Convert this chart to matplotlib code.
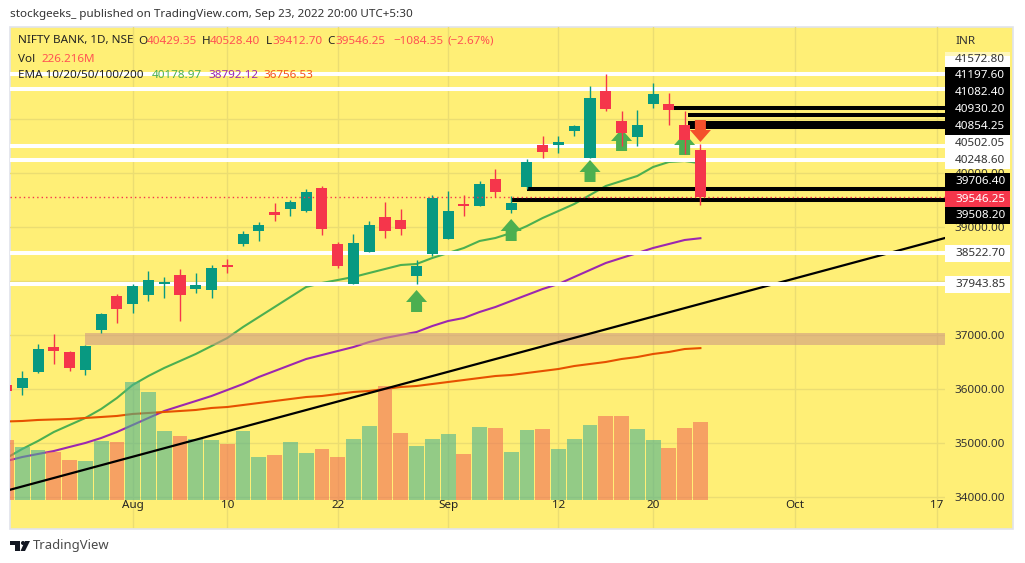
import matplotlib
matplotlib.use('Agg')
import matplotlib.pyplot as plt
from matplotlib.patches import Rectangle, Polygon, Circle

plt.rcParams['font.family'] = ['Noto Sans', 'DejaVu Sans']

W, H = 1025, 563
YELLOW = '#FFEF76'
UP = '#089981'
DOWN = '#F5364B'

# daily candles
opens = [36074, 36018, 36315, 36778, 36685, 36352, 37092, 37722, 37574, 37741, 37944, 38111, 37852, 37833, 38296,
         38685, 38926, 39278, 39333, 39296, 39722, 38685, 37944, 38537, 39185, 39130, 38092, 38500, 38778, 39426,
         39389, 39889, 39315, 39741, 40519, 40519, 40778, 40278, 41519, 40963, 40667, 41278, 41278, 40889, 40429.35]
highs = [36111, 36333, 36833, 37018, 36704, 36815, 37407, 37759, 37944, 38185, 38074, 38222, 38148, 38296, 38407,
         38926, 39093, 39444, 39500, 39704, 39759, 38722, 38870, 39111, 39463, 39333, 38389, 39593, 39667, 39593,
         39852, 40074, 39574, 40259, 40685, 40685, 40889, 41611, 41833, 41148, 41167, 41667, 41482, 41148, 40528.40]
lows = [35944, 35889, 36296, 36463, 36333, 36259, 37037, 37222, 37407, 37630, 37685, 37259, 37778, 37685, 38148,
        38648, 38741, 39111, 39204, 39278, 38852, 38241, 37944, 38537, 38796, 38852, 37944, 38463, 38778, 39204,
        39389, 39556, 39259, 39704, 40278, 40370, 40685, 40278, 41148, 40500, 40500, 41204, 40889, 40352, 39412.70]
closes = [35963, 36203, 36741, 36704, 36389, 36796, 37389, 37481, 37907, 38018, 37981, 37741, 37926, 38241, 38259,
          38870, 39037, 39222, 39463, 39648, 38963, 38278, 38704, 39037, 38926, 38963, 38278, 39537, 39296, 39389,
          39796, 39648, 39444, 40204, 40389, 40574, 40870, 41389, 41185, 40741, 40889, 41463, 41167, 40611, 39546.25]

# volume in millions
volume = [174, 153.7, 145, 139.2, 116, 113.1, 171.1, 168.2, 342.2, 313.2, 200.1, 185.6, 176.9, 174, 162.4,
          200.1, 124.7, 130.5, 168.2, 136.3, 147.9, 124.7, 176.9, 214.6, 330.6, 194.3, 156.6, 176.9, 191.4, 133.4,
          211.7, 208.8, 139.2, 203, 205.9, 147.9, 176.9, 217.5, 243.6, 243.6, 205.9, 174, 150.8, 208.8, 226.216]

ema_green = [34722, 34889, 35037, 35203, 35333, 35463, 35629, 35833, 36074, 36241, 36389, 36518, 36648, 36796, 36944,
             37148, 37333, 37518, 37704, 37889, 37963, 38018, 38074, 38148, 38222, 38296, 38315, 38426, 38518, 38611,
             38741, 38796, 38889, 39018, 39167, 39296, 39426, 39593, 39759, 39852, 39945, 40111, 40204, 40222, 40178.97]
ema_purple = [34666, 34740, 34796, 34851, 34926, 35000, 35092, 35203, 35333, 35463, 35592, 35685, 35777, 35870, 35981,
              36092, 36222, 36333, 36444, 36555, 36629, 36703, 36777, 36870, 36944, 37000, 37055, 37166, 37259, 37315,
              37426, 37518, 37630, 37741, 37852, 37944, 38074, 38204, 38333, 38426, 38518, 38611, 38685, 38759, 38792.12]
ema_orange = [35398, 35407, 35426, 35435, 35444, 35463, 35481, 35500, 35537, 35555, 35574, 35592, 35611, 35648, 35666,
              35703, 35740, 35777, 35814, 35851, 35870, 35907, 35944, 35963, 36000, 36037, 36055, 36092, 36129, 36166,
              36203, 36240, 36259, 36296, 36333, 36370, 36425, 36463, 36500, 36555, 36592, 36648, 36685, 36740, 36756.53]

# drawn levels: price, first bar
white_levels = [41833, 41556, 40502.05, 40248.60, 38522.70, 37943.85]
black_levels = [41197.60, 41082.40, 40930.20, 40854.25, 39706.40, 39508.20]
black_starts = [42.2, 43.2, 43.2, 43.2, 33, 32]
trend_x = [0.22, 59.51]
trend_y = [34133, 38796]
band_x = 5, 59.51
band_y = 36815, 37037
last_close = 39546.25

arrow_up_bars = [26, 32, 37, 39, 43]
arrow_up_tips = [37833, 39148, 40241, 40815, 40741]
arrow_down_bar = 44
arrow_down_tip = 40574

xtick_pos = [8, 14, 21, 28, 35, 41, 50, 59]
xtick_labels = ['Aug', '10', '22', 'Sep', '12', '20', 'Oct', '17']
ytick_pos = [34000, 35000, 36000, 37000, 38000, 39000, 40000, 41000]
ytick_labels = ['34000.00', '35000.00', '36000.00', '37000.00', '', '39000.00', '40000.00', '']

# labels on the price scale, moved apart by the site: text, top, bottom, box, text colour
scale_text = ['41197.60', '41082.40', '40930.20', '40854.25', '40502.05', '40248.60', '39706.40', '39546.25', '39508.20', '38522.70', '37943.85']
scale_top = [67, 84, 101, 118, 135, 152, 173, 191, 207, 245, 276]
scale_bot = [84, 101, 118, 135, 152, 169, 191, 207, 224, 262, 293]
scale_box = ['black', 'black', 'black', 'black', 'white', 'white', 'black', DOWN, 'black', 'white', 'white']
scale_fg = ['white', 'white', 'white', 'white', '#333333', '#333333', 'white', 'white', 'white', '#333333', '#333333']

fig = plt.figure(figsize=(W / 100, H / 100), dpi=100, facecolor='white')
rect = [10 / W, 1 - 528 / H, 935 / W, 501 / H]
bars = list(range(len(closes)))

# frame and yellow price scale behind everything
fig.add_artist(Rectangle((9.5 / W, 1 - 528.5 / H), 1003 / W, 502 / H, transform=fig.transFigure,
                         facecolor=YELLOW, edgecolor='#E0E3EB', lw=1.2))

# bottom layer: grid, ticks, EMAs
ax = fig.add_axes(rect, zorder=1)
ax.patch.set_alpha(0)
ax.set_xlim(0.22, 59.51)
ax.set_ylim(33425, 42704)
ax.set_xticks(xtick_pos)
ax.set_xticklabels(xtick_labels)
ax.set_yticks(ytick_pos)
ax.set_yticklabels(ytick_labels)
ax.yaxis.tick_right()
ax.tick_params(axis='y', length=0, pad=7, labelsize=8.4, labelcolor='#333333')
ax.tick_params(axis='x', length=0, pad=-20, labelsize=8.4, labelcolor='#222222')
ax.grid(True, color='#EBDD72', lw=1)
for s in ax.spines.values():
    s.set_visible(False)
ax.plot(bars, ema_green, color='#4CAF50', lw=1.5)
ax.plot(bars, ema_purple, color='#9C27B0', lw=1.5)
ax.plot(bars, ema_orange, color='#E65100', lw=1.5)

# volume sits on top of the EMAs
vol = fig.add_axes(rect, zorder=2, sharex=ax)
vol.patch.set_alpha(0)
vol.set_ylim(-81.2, 1371.7)
vol.axis('off')
vol_colors = ['#4BB391' if c >= o else '#F06E57' for o, c in zip(opens, closes)]
vol.bar(bars, volume, width=0.94, color=vol_colors, alpha=0.6)

# top layer: drawings and candles
top = fig.add_axes(rect, zorder=3, sharex=ax, sharey=ax)
top.patch.set_alpha(0)
top.axis('off')
top.add_patch(Rectangle((band_x[0], band_y[0]), band_x[1] - band_x[0], band_y[1] - band_y[0],
                        facecolor='#D09A82', alpha=0.6, edgecolor='none', zorder=1))
top.plot(trend_x, trend_y, color='black', lw=1.6, zorder=2)
for p in white_levels:
    top.plot(trend_x, [p, p], color='white', lw=2.9, solid_capstyle='butt', zorder=2)
for p, start in zip(black_levels, black_starts):
    top.plot([start, trend_x[1]], [p, p], color='black', lw=2.9, solid_capstyle='butt', zorder=2)
top.plot(trend_x, [last_close, last_close], color=DOWN, lw=1, ls=(0, (1, 2.2)), zorder=6)

# arrows stay under the candles, except the red one
for b, p in zip(arrow_up_bars, arrow_up_tips):
    top.annotate('', xy=(b, p), xytext=(0, -22 * 0.72), textcoords='offset points', zorder=3,
                 arrowprops=dict(width=11 * 0.72, headwidth=21 * 0.72, headlength=12 * 0.72,
                                 color='#4CAF50', lw=0))

colors = [UP if c >= o else DOWN for o, c in zip(opens, closes)]
top.vlines(bars, lows, highs, color=colors, lw=1.0, zorder=4)
top.bar(bars, [c - o for o, c in zip(opens, closes)], bottom=opens, width=0.7, color=colors, zorder=5)
top.annotate('', xy=(arrow_down_bar, arrow_down_tip), xytext=(0, 22 * 0.72), textcoords='offset points', zorder=6,
             arrowprops=dict(width=11 * 0.72, headwidth=21 * 0.72, headlength=12 * 0.72,
                             color='#F4512B', lw=0))

# pixel overlay for header, legend, scale labels, logo
over = fig.add_axes([0, 0, 1, 1], zorder=4)
over.patch.set_alpha(0)
over.set_xlim(0, W)
over.set_ylim(H, 0)
over.axis('off')

over.text(10, 15, 'stockgeeks_ published on TradingView.com, Sep 23, 2022 20:00 UTC+5:30', fontsize=8.4,
          color='#333333', va='center')

fs = 8.4
over.text(18, 41, 'NIFTY BANK, 1D, NSE', fontsize=fs, color='#222222', va='center')
RED = '#FF5252'
for x, s, c in [(138, 'O', '#222222'), (147, '40429.35', RED), (202, 'H', '#222222'), (210, '40528.40', RED),
                (266, 'L', '#222222'), (272, '39412.70', RED), (327, 'C', '#222222'), (335, '39546.25', RED),
                (393, '\u22121084.35', RED), (447, '(\u22122.67%)', RED)]:
    over.text(x, 41, s, fontsize=fs, color=c, va='center')
over.text(18, 59, 'Vol', fontsize=fs, color='#222222', va='center')
over.text(42, 59, '226.216M', fontsize=fs, color=RED, va='center')
over.text(18, 75, 'EMA 10/20/50/100/200', fontsize=fs, color='#222222', va='center')
over.text(152, 75, '40178.97', fontsize=fs, color='#4CAF50', va='center')
over.text(208, 75, '38792.12', fontsize=fs, color='#9C27B0', va='center')
over.text(263, 75, '36756.53', fontsize=fs, color='#F4511E', va='center')

over.text(955, 41, 'INR', fontsize=fs, color='#333333', va='center')
over.add_patch(Rectangle((945, 56), 65, 11, facecolor='white', edgecolor='none'))
over.add_patch(Rectangle((945, 52), 65, 4, facecolor='white', alpha=0.5, edgecolor='none'))
over.text(955, 59, '41572.80', fontsize=fs, color='#333333', va='center')
for s, t, b, bc, fc in zip(scale_text, scale_top, scale_bot, scale_box, scale_fg):
    over.add_patch(Rectangle((945, t), 65, b - t, facecolor=bc, edgecolor='none'))
    over.text(955, (t + b) / 2, s, fontsize=fs, color=fc, va='center', fontweight='medium' if fc == 'white' else 'normal')

# TradingView logo
logo = '#131722'
over.add_patch(Polygon([(10, 541), (20, 541), (20, 551), (15, 551), (15, 545), (10, 545)], color=logo, lw=0))
over.add_patch(Circle((23, 543), 2, color=logo, lw=0))
over.add_patch(Polygon([(25, 541), (30, 541), (25, 551), (20.5, 551)], color=logo, lw=0))
over.text(33, 546, 'TradingView', fontsize=9.4, color='#4A4A4A', va='center')

fig.savefig('out.png', dpi=100)
